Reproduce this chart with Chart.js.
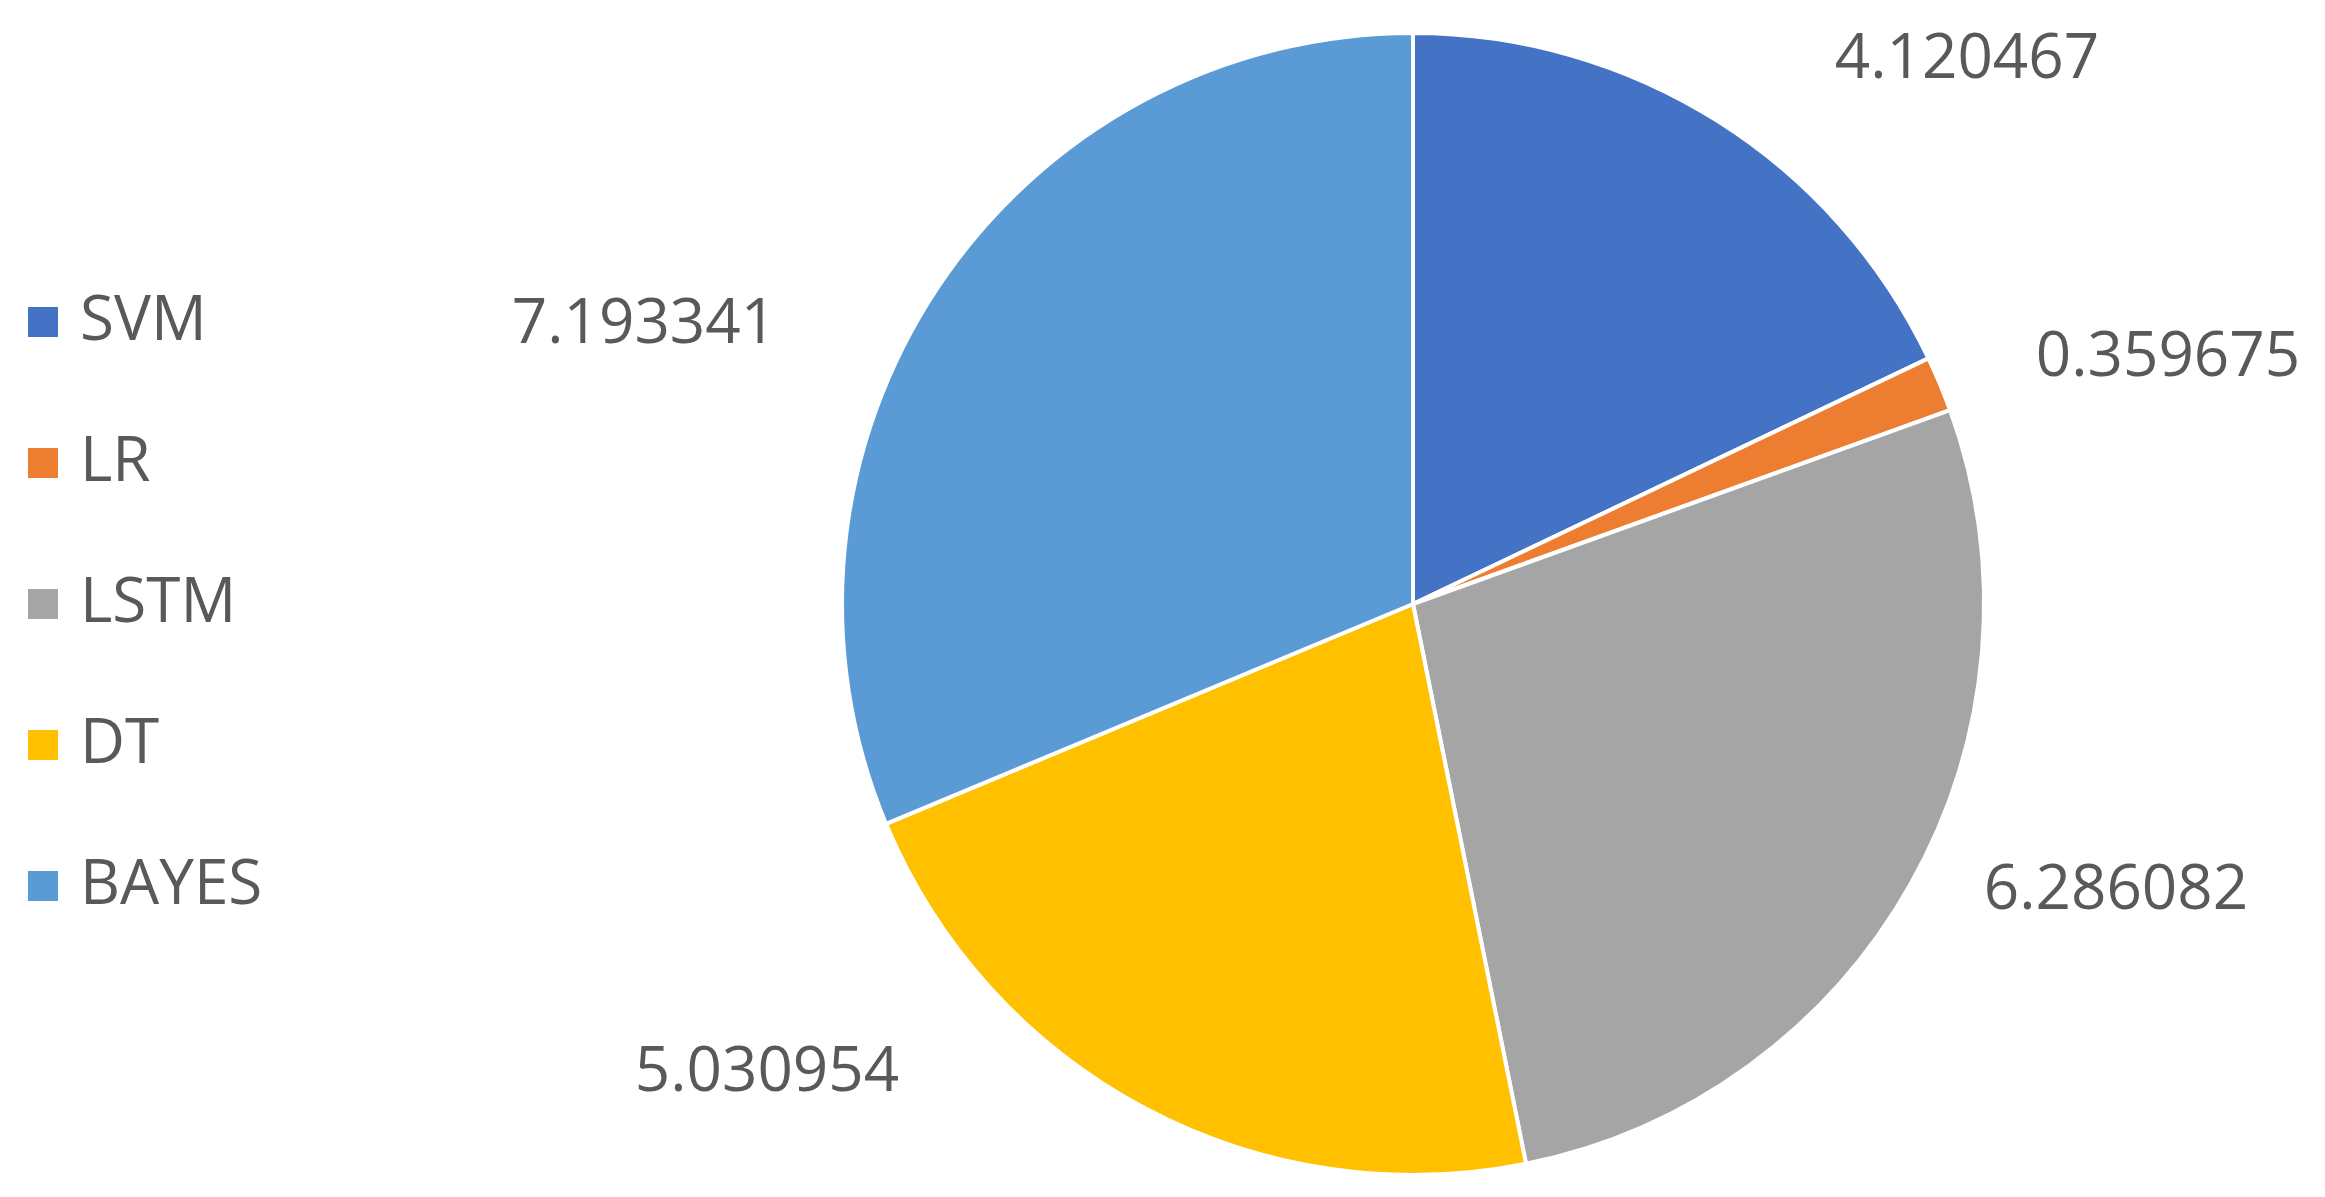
<!DOCTYPE html>
<html>
<head>
<meta charset="utf-8">
<script src="https://cdn.jsdelivr.net/npm/chart.js"></script>
<style>
  html, body { margin: 0; padding: 0; background: #fff; }
  #wrap { width: 2325px; height: 1197px; }
</style>
</head>
<body>
<div id="wrap"><canvas id="pie" width="2325" height="1197"></canvas></div>
<script>
const labels = ['SVM', 'LR', 'LSTM', 'DT', 'BAYES'];
const values = [4.120467, 0.359675, 6.286082, 5.030954, 7.193341];
const colors = ['#4472C4', '#ED7D31', '#A5A5A5', '#FFC000', '#5B9BD5'];
// where each value label sits (canvas px)
const labelPos = [[1967, 60], [2168, 358], [2116, 891], [767, 1073], [644, 325]];

const textColor = '#595959';
const font = '62px "Open Sans", "Liberation Sans", sans-serif';

const extras = {
    id: 'extras',
    afterDraw(chart) {
        const ctx = chart.ctx;
        ctx.save();
        ctx.font = font;
        ctx.fillStyle = textColor;
        ctx.textBaseline = 'middle';

        // value labels
        ctx.textAlign = 'center';
        values.forEach((v, i) => {
            ctx.fillText(String(v), labelPos[i][0], labelPos[i][1]);
        });

        // legend
        ctx.textAlign = 'left';
        labels.forEach((l, i) => {
            const y = 322 + i * 141;
            ctx.fillStyle = colors[i];
            ctx.fillRect(28, y - 15, 30, 30);
            ctx.fillStyle = textColor;
            ctx.fillText(l, 80, y);
        });
        ctx.restore();
    }
};

new Chart(document.getElementById('pie').getContext('2d'), {
    type: 'pie',
    data: {
        labels: labels,
        datasets: [{
            data: values,
            backgroundColor: colors,
            borderColor: '#ffffff',
            borderWidth: 4
        }]
    },
    options: {
        responsive: false,
        animation: false,
        layout: { padding: { left: 840, right: 339, top: 31, bottom: 20 } },
        plugins: {
            legend: { display: false },
            tooltip: { enabled: false }
        }
    },
    plugins: [extras]
});
</script>
</body>
</html>
